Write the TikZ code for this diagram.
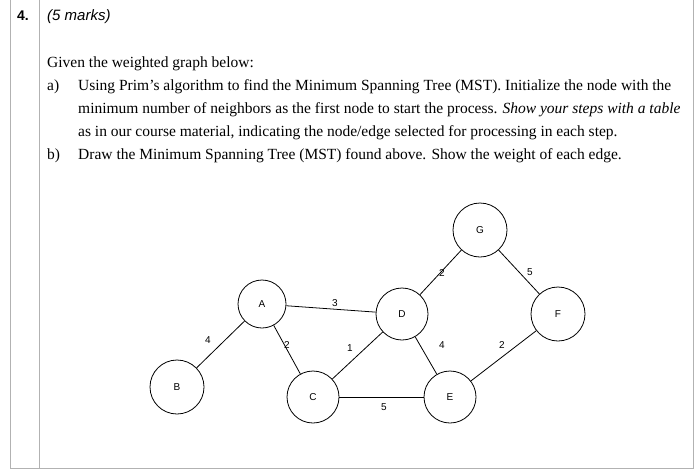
\documentclass[tikz,border=0pt]{standalone}
\usepackage{fontspec}
\setmainfont{Liberation Serif}
\newfontfamily\arialf{Liberation Sans}
\begin{document}
\begin{tikzpicture}[x=1pt,y=-1pt,
  vtx/.style={circle,draw,line width=0.8pt,minimum size=50pt,inner sep=0pt,font=\arialf\fontsize{10}{12}\selectfont},
  edge/.style={line width=0.8pt},
  wt/.style={font=\arialf\fontsize{10}{12}\selectfont,inner sep=0pt},
  txt/.style={anchor=base west,inner sep=0pt,font=\fontsize{15.5}{18}\selectfont},
  frame/.style={draw=gray!60,line width=0.8pt}]
\useasboundingbox (0,0) rectangle (700,472);
\draw[frame] (10,0) -- (10,468) -- (693,468) -- (693,0);
\draw[frame] (39,0) -- (39,468);
\node[txt,font=\arialf\bfseries\fontsize{14}{16}\selectfont] (num) at (17,20) {4.};
\node[txt,font=\arialf\itshape\fontsize{15}{18}\selectfont] (marks) at (47,20) {(5 marks)};
\node[txt] (t0) at (47,67) {Given the weighted graph below:};
\node[txt] (t1a) at (47,90) {a)};
\node[txt] (t1) at (78,90) {Using Prim’s algorithm to find the Minimum Spanning Tree (MST). Initialize the node with the};
\node[txt] (t2) at (78,113) {minimum number of neighbors as the first node to start the process. \textit{Show your steps with a table}};
\node[txt] (t3) at (78,136) {as in our course material, indicating the node/edge selected for processing in each step.};
\node[txt] (t4a) at (47,159) {b)};
\node[txt] (t4) at (78,159) {Draw the Minimum Spanning Tree (MST) found above. Show the weight of each edge.};
\node[vtx,minimum size=48pt] (A) at (262,304) {A};
\node[vtx,minimum size=54pt] (B) at (177,387) {B};
\node[vtx,minimum size=52pt] (C) at (313,397) {C};
\node[vtx,minimum size=52pt] (D) at (402,314) {D};
\node[vtx,minimum size=52pt] (E) at (450,397) {E};
\node[vtx,minimum size=54pt] (F) at (558,314) {F};
\node[vtx,minimum size=54pt] (G) at (480,230) {G};
\draw[edge] (A) -- (B);
\draw[edge] (A) -- (C);
\draw[edge] (A) -- (D);
\draw[edge] (C) -- (D);
\draw[edge] (C) -- (E);
\draw[edge] (D) -- (E);
\draw[edge] (D) -- (G);
\draw[edge] (G) -- (F);
\draw[edge] (E) -- (F);
\node[wt] (wAB) at (208,340) {4};
\node[wt] (wAC) at (287,345) {2};
\node[wt] (wAD) at (335,303) {3};
\node[wt] (wCD) at (350,348) {1};
\node[wt] (wDG) at (442,273) {2};
\node[wt] (wGF) at (530,272) {5};
\node[wt] (wDE) at (442,345) {4};
\node[wt] (wEF) at (502,345) {2};
\node[wt] (wCE) at (384,407) {5};
\end{tikzpicture}
\end{document}
